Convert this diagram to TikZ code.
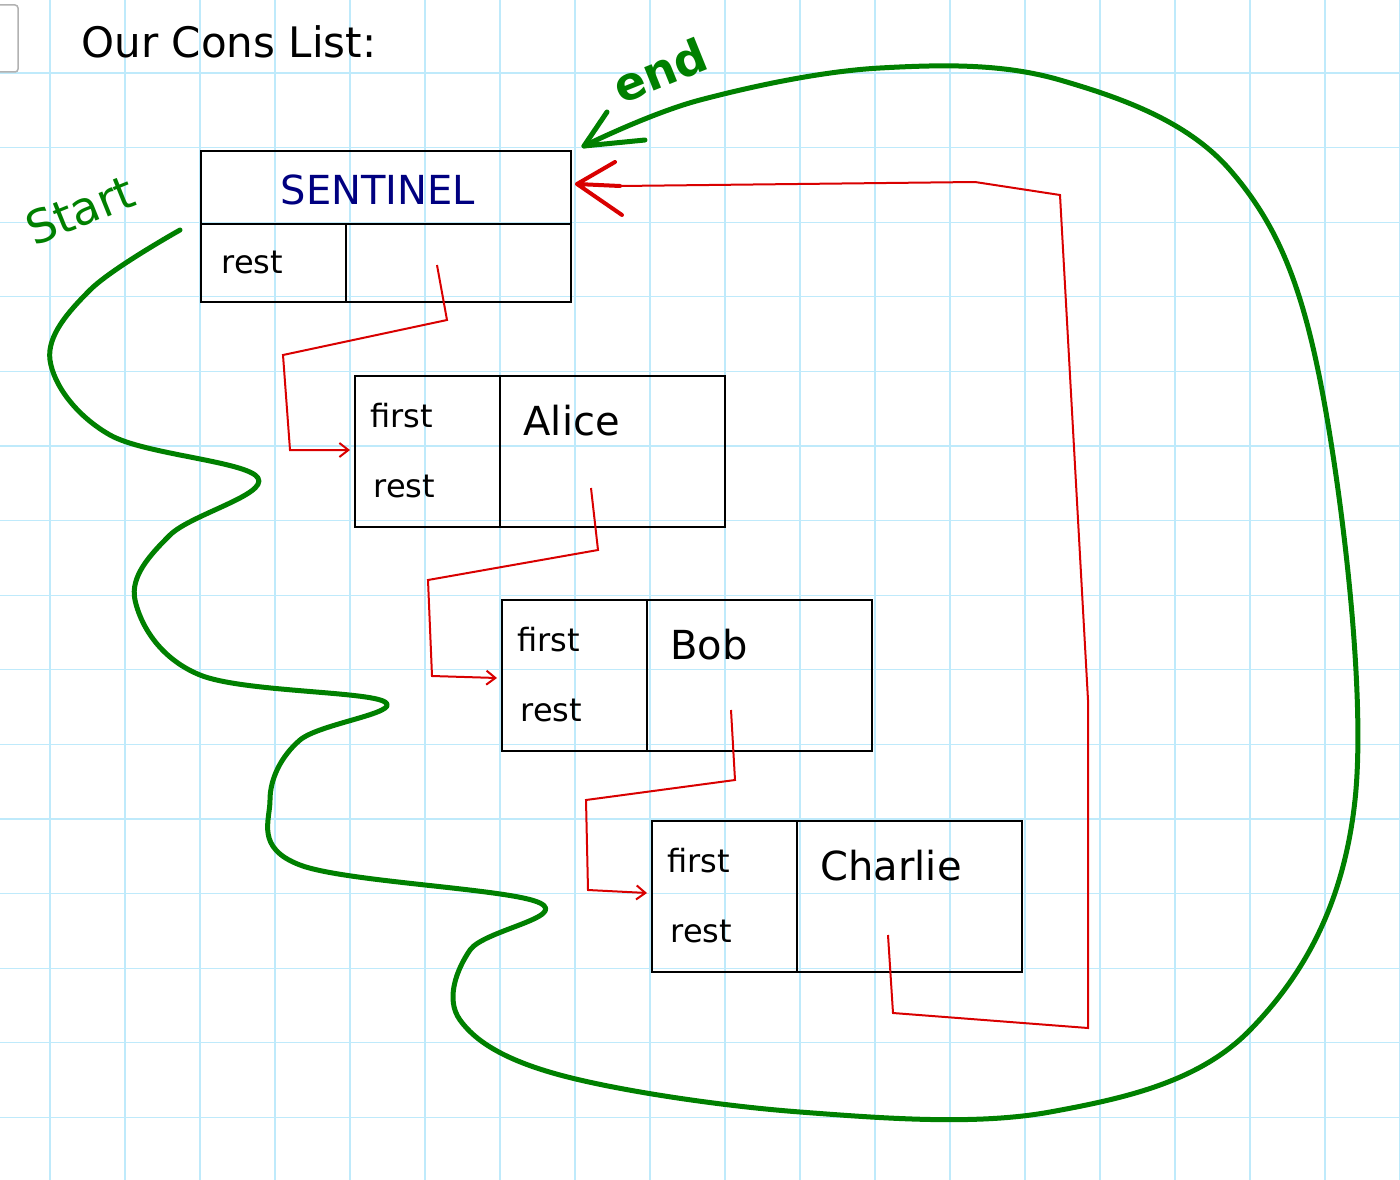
\documentclass[tikz,border=0pt]{standalone}
\usepackage{fontspec}
\usetikzlibrary{arrows.meta}
\setmainfont{DejaVu Sans}
\begin{document}
\begin{tikzpicture}[x=1pt,y=-1pt,
  box/.style={draw=black,line width=2.5pt},
  lbl/.style={font=\fontsize{32}{34}\selectfont,anchor=west},
  nm/.style={font=\fontsize{40}{42}\selectfont,anchor=west},
  ptr/.style={draw=red!85!black,line width=2pt,->,>={Straight Barb[length=9pt,width=14pt]}},
  grn/.style={draw=green!50!black,line width=5pt,line cap=round,line join=round}]
\useasboundingbox (0,0) rectangle (1400,1180);
\fill[white] (0,0) rectangle (1400,1180);
\foreach \x in {50,125,...,1400} \draw[cyan!25,line width=1.2pt] (\x,0) -- (\x,1180);
\foreach \y in {73,147.6,...,1180} \draw[cyan!25,line width=1.2pt] (0,\y) -- (1400,\y);
\draw[gray!60,rounded corners=3pt,line width=1.5pt,fill=white] (-5,5) rectangle (18,72);
\node[anchor=west] (title) at (78,42) {\fontsize{42}{46}\selectfont Our Cons List:};
% sentinel
\draw[box] (201,151) rectangle (571,302);
\draw[box] (201,224) -- (571,224) (346,224) -- (346,302);
\node (sent) at (378,190) {\color{blue!50!black}\fontsize{40}{42}\selectfont SENTINEL};
\node[lbl] (srest) at (218,262) {rest};
% boxes
\foreach \n/\xa/\ya/\t in {A/355/376/Alice,B/502/600/Bob,C/652/821/Charlie}{
  \draw[box] (\xa,\ya) rectangle ++(370,151);
  \draw[box] (\xa+145,\ya) -- ++(0,151);
  \node[lbl] (\n f) at (\xa+12,\ya+40) {first};
  \node[lbl] (\n r) at (\xa+15,\ya+110) {rest};
  \node[nm] (\n n) at (\xa+165,\ya+45) {\t};
}
\coordinate (s0) at (437,265); \coordinate (sA) at (350,450);
\coordinate (a0) at (591,488); \coordinate (aB) at (497,678);
\coordinate (b0) at (731,710); \coordinate (bC) at (647,893);
\coordinate (c0) at (888,935); \coordinate (cS) at (577,184);
\draw[ptr] (s0) -- (447,320) -- (283,355) -- (290,450) -- (sA);
\draw[ptr] (a0) -- (598,550) -- (428,580) -- (432,676) -- (aB);
\draw[ptr] (b0) -- (735,780) -- (586,800) -- (588,890) -- (bC);
\draw[draw=red!85!black,line width=2pt] (c0) -- (893,1013) -- (1088,1028) -- (1088,700) -- (1060,195) -- (975,182) -- (620,186);
\draw[draw=red!85!black,line width=4pt,line cap=round] (620,186) -- (cS) (cS) -- (615,162) (cS) -- (622,215);
% green
\node[rotate=22,text=green!50!black] (start) at (80,210) {\fontsize{46}{48}\selectfont Start};
\node[rotate=22,text=green!50!black] (endl) at (660,70) {\fontsize{46}{48}\bfseries end};
\coordinate (tip) at (584,146);
\draw[grn] plot[smooth,tension=0.6] coordinates {(180,230) (90,290) (50,360) (110,435) (258,478) (170,535) (135,600) (200,675) (385,702) (300,740) (270,800) (300,865) (540,903) (470,950) (460,1020) (560,1075) (800,1112) (1050,1112) (1250,1030) (1355,800) (1320,380) (1230,170) (1060,80) (880,68) (700,100) (tip)};
\draw[grn] (tip) -- (645,140) (tip) -- (607,112);
\end{tikzpicture}
\end{document}
